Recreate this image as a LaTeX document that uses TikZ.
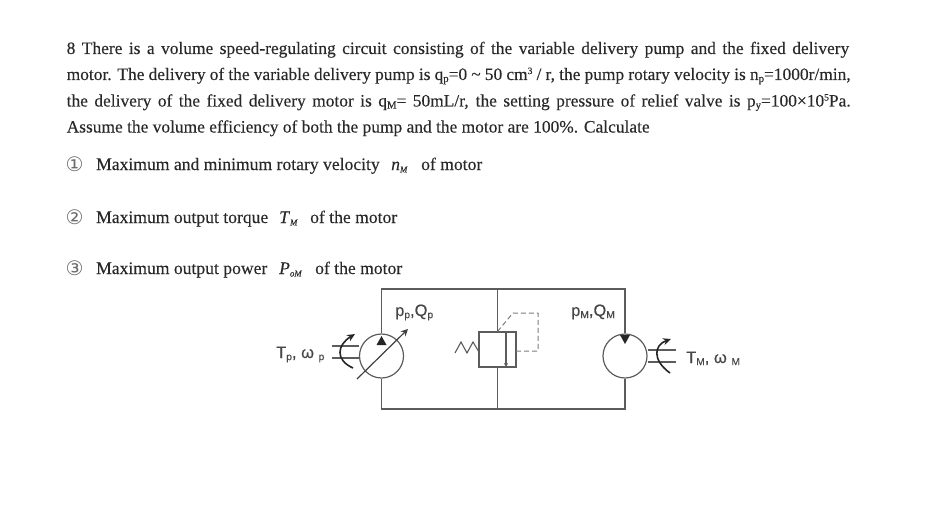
\documentclass[tikz,border=0pt]{standalone}
\usepackage{fontspec}
\usepackage{xcolor}
\usepackage{tikz}
\usetikzlibrary{arrows.meta, positioning}
\setmainfont{Liberation Serif}[FakeBold=0.2]
\newfontfamily\labelfont{Liberation Sans}[FakeBold=0.3]
\newfontfamily\symbfont{DejaVu Sans}
\definecolor{inkcolour}{rgb}{0.16,0.16,0.16}
\definecolor{pipecolour}{rgb}{0.36,0.36,0.36}
\definecolor{labelcolour}{rgb}{0.28,0.28,0.28}
\definecolor{circcolour}{rgb}{0.42,0.42,0.42}
\newcommand{\sbs}[1]{\raisebox{-0.25ex}{\scalebox{0.62}{#1}}}
\newcommand{\sps}[1]{\raisebox{0.75ex}{\scalebox{0.55}{#1}}}
\newcommand{\qty}[2]{\textit{#1}\raisebox{-0.3ex}{\scalebox{0.5}{\textit{#2}}}}

\begin{document}
\begin{tikzpicture}[x=1pt, y=-1pt,
    textline/.style={anchor=base west, inner sep=0pt, text=inkcolour, font=\fontsize{17.4}{20}\selectfont},
    itemline/.style={anchor=base west, inner sep=0pt, text=inkcolour, font=\fontsize{17.6}{20}\selectfont},
    itemnum/.style={anchor=base west, inner sep=0pt, text=circcolour, font=\symbfont\fontsize{20}{22}\selectfont},
    unit/.style={circle, draw=pipecolour, line width=1.2pt, minimum size=44pt, inner sep=0pt},
    valvebox/.style={rectangle, draw=pipecolour, line width=1.1pt, minimum width=37pt, minimum height=35pt, inner sep=0pt},
    symlabel/.style={inner sep=0pt, text=labelcolour, font=\labelfont\fontsize{16.5}{18}\selectfont},
    pipe/.style={draw=pipecolour, line width=1.1pt},
    pilot/.style={draw=pipecolour!80, line width=1pt, dash pattern=on 5pt off 3pt},
    turn/.style={-{Stealth[length=8pt,width=7pt]}, draw=black!85, line width=1.6pt}
]
\useasboundingbox (0,0) rectangle (928,508);

\node[textline] (l1) at (66.5,54) {\makebox[782.5pt][s]{8 There is a volume speed-regulating circuit consisting of the variable delivery pump and the fixed delivery}};
\node[textline] (l2) at (66.5,80) {\makebox[784pt][s]{motor. The delivery of the variable delivery pump is q\sbs{p}=0 \textasciitilde{} 50 cm\sps{3} / r, the pump rotary velocity is n\sbs{p}=1000r/min,}};
\node[textline] (l3) at (66.5,106.5) {\makebox[784pt][s]{the delivery of the fixed delivery motor is q\sbs{M}= 50mL/r, the setting pressure of relief valve is p\sbs{y}=100×10\sps{5}Pa.}};
\node[textline] (l4) at (66.5,132.5) {Assume the volume efficiency of both the pump and the motor are 100\%. Calculate};

\node[itemnum] (n1) at (65.5,171) {①};
\node[itemnum] (n2) at (65.5,224) {②};
\node[itemnum] (n3) at (65.5,275) {③};
\node[itemline] (i1) at (96,170) {Maximum and minimum rotary velocity};
\node[itemline] (i1s) at (391,170) {\qty{n}{M}};
\node[itemline] (i1e) at (421,170) {of motor};
\node[itemline] (i2) at (96,223) {Maximum output torque};
\node[itemline] (i2s) at (279,223) {\qty{T}{M}};
\node[itemline] (i2e) at (310,223) {of the motor};
\node[itemline] (i3) at (96,274) {Maximum output power};
\node[itemline] (i3s) at (279,274) {\qty{P}{oM}};
\node[itemline] (i3e) at (315,274) {of the motor};

\node[unit] (pump) at (381.5,356) {};
\node[unit] (motor) at (625,356) {};
\node[valvebox] (valve) at (497.5,349.5) {};

\coordinate (tl) at (381.5,289);
\coordinate (tm) at (497.5,289);
\coordinate (tr) at (625,289);
\coordinate (bl) at (381.5,409);
\coordinate (bm) at (497.5,409);
\coordinate (br) at (625,409);

\draw[pipe] (pump.north) -- (tl) -- (tr) -- (motor.north);
\draw[pipe] (pump.south) -- (bl) -- (br) -- (motor.south);
\draw[pipe] (tm) -- (valve.north);
\draw[pipe] (valve.south) -- (bm);

% pump
\fill[black!85] (381.5,336) -- (386.5,345) -- (376.5,345) -- cycle;
\coordinate (adjs) at (357,379);
\coordinate (adje) at (408,329);
\draw[black!75, line width=1.2pt, -{Stealth[length=7pt,width=7pt]}] (adjs) -- (adje);
\coordinate (ps1) at (332,346);
\coordinate (ps2) at (332,358);
\draw[pipe] (ps1) -- (ps1 -| pump.west);
\draw[pipe] (ps2) -- (ps2 -| pump.west);
\coordinate (pt1) at (353,368);
\coordinate (pt2) at (355,334);
\draw[turn] (pt1) .. controls (335,360) and (337,345) .. (pt2);

% valve
\coordinate (sp) at (479,352);
\draw[pipe] (sp) -- (473,342) -- (467,353) -- (461,342) -- (455,353);
\coordinate (va) at (506,332);
\coordinate (vb) at (506,367);
\draw[pipe, -{Stealth[length=4pt,width=4pt]}] (va) -- (vb);
\coordinate (pl1) at (513,313);
\coordinate (pl2) at (538,313);
\coordinate (pl3) at (538,351);
\coordinate (pl4) at (516,351);
\draw[pilot] (valve.north) -- (pl1) -- (pl2) -- (pl3) -- (pl4);

% motor
\fill[black!85] (625,344) -- (630,335) -- (620,335) -- cycle;
\coordinate (ms1) at (676,350);
\coordinate (ms2) at (676,362);
\draw[pipe] (ms1 -| motor.east) -- (ms1);
\draw[pipe] (ms2 -| motor.east) -- (ms2);
\coordinate (mt1) at (670,373);
\coordinate (mt2) at (671,339);
\draw[turn] (mt1) .. controls (652,360) and (654,345) .. (mt2);

\node[symlabel, anchor=base west] (pq1) at (395,316) {p\sbs{p},Q\sbs{p}};
\node[symlabel, anchor=base west] (pq2) at (571,316) {p\sbs{M},Q\sbs{M}};
\node[symlabel, anchor=base west] (tw1) at (276,358) {T\sbs{p}, ω \sbs{p}};
\node[symlabel, anchor=base west] (tw2) at (686,363) {T\sbs{M}, ω \sbs{M}};

\end{tikzpicture}
\end{document}
